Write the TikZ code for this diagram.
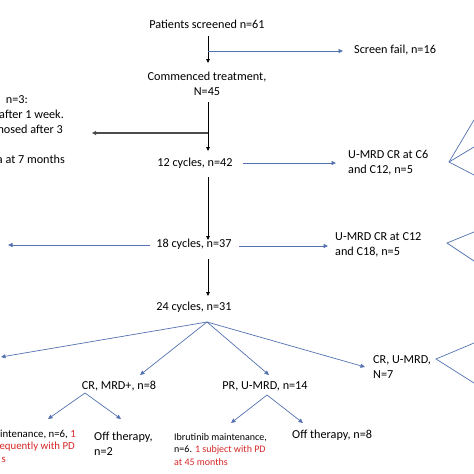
\documentclass[tikz,border=0pt]{standalone}
\usepackage{fontspec}
\setmainfont{Carlito}
\usetikzlibrary{arrows.meta}
\definecolor{ablue}{RGB}{84,114,176}
\definecolor{ared}{RGB}{214,40,40}
\begin{document}
\begin{tikzpicture}[x=1pt,y=-1pt,
  txt/.style={inner sep=0pt, font=\fontsize{12.2}{15}\selectfont},
  small/.style={inner sep=0pt, font=\fontsize{10}{12.5}\selectfont},
  smallb/.style={inner sep=0pt, font=\fontsize{10.8}{13}\selectfont},
  barr/.style={draw=black, line width=0.8pt, -{Triangle[length=4pt,width=3.5pt]}},
  darr/.style={draw=black!70, line width=1.3pt, -{Triangle[length=4pt,width=4pt]}},
  blarr/.style={draw=ablue, line width=0.7pt, -{Triangle[length=4.5pt,width=4pt]}},
  bline/.style={draw=ablue, line width=0.7pt}]
\useasboundingbox (0,0) rectangle (474,474);
\clip (0,0) rectangle (474,474);
\fill[white] (0,0) rectangle (474,474);

% text nodes
\node[txt] (ps) at (207,24) {Patients screened n=61};
\node[txt, anchor=west] (sf) at (354,50) {Screen fail, n=16};
\node[txt, align=center] (ct) at (207,84) {Commenced treatment,\\N=45};
\node[txt, anchor=east] (l1) at (28,100) {n=3:};
\node[txt, anchor=east] (l2) at (64,114.5) {after 1 week.};
\node[txt, anchor=east] (l3) at (63,129.5) {hosed after 3};
\node[txt, anchor=east] (l4) at (65,159) {a at 7 months};
\node[txt] (c12) at (195,163) {12 cycles, n=42};
\node[txt, align=left, anchor=west] (u1) at (348,163) {U-MRD CR at C6\\and C12, n=5};
\node[txt] (c18) at (194,244) {18 cycles, n=37};
\node[txt, align=left, anchor=west] (u2) at (335,244.5) {U-MRD CR at C12\\and C18, n=5};
\node[txt] (c24) at (194,307) {24 cycles, n=31};
\node[txt] (crp) at (119,386) {CR, MRD+, n=8};
\node[txt] (pru) at (265,386) {PR, U-MRD, n=14};
\node[txt, align=left, anchor=west] (cru) at (373,367.5) {CR, U-MRD,\\N=7};
\node[txt, align=left, anchor=west] (off2) at (94,443.5) {Off therapy,\\n=2};
\node[txt, anchor=west] (off8) at (292,435) {Off therapy, n=8};
\node[small, align=left, anchor=west] (ibr) at (174,449.5) {Ibrutinib maintenance,\\n=6. \textcolor{ared}{1 subject with PD}\\\textcolor{ared}{at 45 months}};
\node[smallb, anchor=east] (bl1) at (76,434) {intenance, n=6, \textcolor{ared}{1}};
\node[smallb, anchor=east, text=ared] (bl2) at (75,447) {equently with PD};
\node[smallb, anchor=east, text=ared] (bl3) at (6,460) {s};

% connector coordinates
\coordinate (a1s) at (208,36);  \coordinate (a1e) at (208,63);
\coordinate (sfs) at (208,51);  \coordinate (sfe) at (343,51);
\coordinate (a2s) at (208,102); \coordinate (a2e) at (208,151);
\coordinate (wds) at (208,133); \coordinate (wde) at (92,133);
\coordinate (u1s) at (243,163); \coordinate (u1e) at (336,163);
\coordinate (a3s) at (208,177); \coordinate (a3e) at (208,240);
\coordinate (lfs) at (150,245); \coordinate (lfe) at (8,245);
\coordinate (u2s) at (239,246); \coordinate (u2e) at (328,246);
\coordinate (a4s) at (208,259); \coordinate (a4e) at (208,296);
\coordinate (b24) at (207,322);
\coordinate (t1) at (1,357);
\coordinate (t2) at (140,375);
\coordinate (t3) at (269,375);
\coordinate (t4) at (365,367);
\coordinate (bcr) at (85,393);
\coordinate (t5) at (48,419);
\coordinate (t6) at (121,419);
\coordinate (bpr) at (267,395);
\coordinate (t7) at (231,423);
\coordinate (t8) at (303,423);
\coordinate (r1) at (449,162);
\coordinate (r1a) at (474,120); \coordinate (r1b) at (474,147); \coordinate (r1c) at (474,175);
\coordinate (r2) at (447,243);
\coordinate (r2a) at (474,232); \coordinate (r2b) at (474,261);
\coordinate (r3) at (436,359);
\coordinate (r3a) at (474,343); \coordinate (r3b) at (474,383);

% connectors
\draw[barr] (a1s) -- (a1e);
\draw[blarr] (sfs) -- (sfe);
\draw[barr] (a2s) -- (a2e);
\draw[darr] (wds) -- (wde);
\draw[blarr] (u1s) -- (u1e);
\draw[barr] (a3s) -- (a3e);
\draw[blarr] (lfs) -- (lfe);
\draw[blarr] (u2s) -- (u2e);
\draw[barr] (a4s) -- (a4e);
\draw[blarr] (b24) -- (t1);
\draw[blarr] (b24) -- (t2);
\draw[blarr] (b24) -- (t3);
\draw[blarr] (b24) -- (t4);
\draw[blarr] (bcr) -- (t5);
\draw[blarr] (bcr) -- (t6);
\draw[blarr] (bpr) -- (t7);
\draw[blarr] (bpr) -- (t8);
\draw[bline] (r1a) -- (r1) -- (r1c);
\draw[bline] (r1) -- (r1b);
\draw[bline] (r2a) -- (r2) -- (r2b);
\draw[bline] (r3a) -- (r3) -- (r3b);
\end{tikzpicture}
\end{document}
